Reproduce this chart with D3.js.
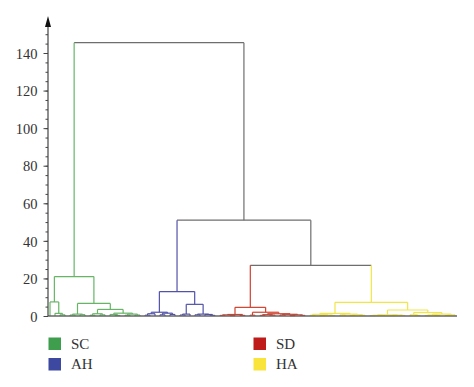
<!DOCTYPE html>
<html>
<head>
<meta charset="utf-8">
<script src="https://cdn.jsdelivr.net/npm/d3@7"></script>
<style>
  body { margin: 0; background: #fff; }
  svg { display: block; }
  .tick text { font-family: "Liberation Serif", "DejaVu Serif", serif; font-size: 14.5px; fill: #333; }
  .legend text { font-family: "Liberation Serif", "DejaVu Serif", serif; font-size: 15px; fill: #333; }
</style>
</head>
<body>
<div id="chart-container"></div>
<script>
// dendrogram data: node = [mergeHeight, left, right], leaf = 1
var scTree = [21,
    [7.5, 1, [1.4, 1, [0.6, 1, 1]]],
    [6.7,
        [1.0, [0.5, 1, 1], [0.7, 1, 1]],
        [3.5,
            [1.2, [0.4, 1, 1], [0.6, 1, 1]],
            [1.5, [0.8, 1, [0.3, 1, 1]], [1.0, [0.4, 1, 1], [0.5, 1, 1]]]]]];

var ahTree = [13,
    [2.0, [1.2, [0.4, 1, 1], 1], [1.5, [0.6, 1, 1], [0.8, 1, 1]]],
    [6.2,
        [1.0, [0.5, 1, 1], 1],
        [1.0, [0.6, 1, 1], [0.8, 1, [0.3, 1, 1]]]]];

var sdTree = [4.6,
    [0.8, [0.6, [0.3, 1, 1], [0.2, 1, 1]], [0.3, 1, 1]],
    [2.0,
        [0.4, 1, 1],
        [1.2, [0.7, [0.3, 1, 1], [0.4, 1, 1]], [0.9, [0.5, 1, 1], [0.6, [0.2, 1, 1], [0.3, 1, 1]]]]]];

var haTree = [7.3,
    [1.4,
        [0.9, [0.4, 1, 1], [0.5, [0.2, 1, 1], [0.3, 1, 1]]],
        [1.0, [0.6, 1, 1], [0.7, [0.3, 1, 1], [0.4, 1, 1]]]],
    [3.2,
        [0.6, [0.4, [0.2, 1, 1], [0.3, 1, 1]], [0.5, [0.2, 1, 1], [0.3, 1, 1]]],
        [1.8, [0.6, 1, [0.3, 1, 1]], [1.0, [0.5, [0.2, 1, 1], [0.3, 1, 1]], [0.6, [0.3, 1, 1], 1]]]]];

var upperHeights = [27, 51, 145.5];   // SD+HA, AH+(SD+HA), root
var groups = ["SC", "AH", "SD", "HA"];
var groupTrees = [scTree, ahTree, sdTree, haTree];
var lineColors = ["#66b566", "#5252aa", "#d2402c", "#f1e548"];
var legendColors = ["#3e9e4e", "#3d49a0", "#c01b1b", "#f9e43c"];
var majorTicks = [0, 20, 40, 60, 80, 100, 120, 140];
var minorTicks = d3.range(0, 151, 5);

var width = 474, height = 387;
var svg = d3.select("#chart-container").append("svg")
    .attr("width", width).attr("height", height);

var rootData = [upperHeights[2], scTree, [upperHeights[1], ahTree, [upperHeights[0], sdTree, haTree]]];
var root = d3.hierarchy(rootData, d => Array.isArray(d) ? d.slice(1) : null);

var leaves = root.leaves();
var xScale = d3.scaleLinear().domain([0, leaves.length - 1]).range([50, 455]);
var yScale = d3.scaleLinear().domain([0, 140]).range([316, 53]);

leaves.forEach((l, i) => { l.x = xScale(i); });
root.eachAfter(n => {
    n.h = Array.isArray(n.data) ? n.data[0] : 0;
    if (n.children) n.x = d3.mean(n.children, c => c.x);
});

// colour each cluster
root.each(n => { n.color = "#6e6e6e"; });
root.descendants().forEach(n => {
    var gi = groupTrees.indexOf(n.data);
    if (gi >= 0) n.each(c => { c.color = lineColors[gi]; });
});

var view = svg.append("g").attr("class", "dendro")
    .attr("fill", "none").attr("stroke-width", 1.2);

// horizontal bars
view.selectAll(".bar")
    .data(root.descendants().filter(n => n.children))
    .enter().append("line")
    .attr("x1", d => d.children[0].x)
    .attr("x2", d => d.children[1].x)
    .attr("y1", d => yScale(d.h))
    .attr("y2", d => yScale(d.h))
    .attr("stroke", d => d.color);

// vertical links
view.selectAll(".link")
    .data(root.descendants().filter(n => n.parent))
    .enter().append("line")
    .attr("x1", d => d.x)
    .attr("x2", d => d.x)
    .attr("y1", d => yScale(d.parent.h))
    .attr("y2", d => yScale(d.h))
    .attr("stroke", d => d.color);

// axes
var axisX = 48;
svg.append("line")
    .attr("x1", axisX).attr("x2", 457)
    .attr("y1", yScale(0)).attr("y2", yScale(0))
    .attr("stroke", "#666").attr("stroke-width", 1.3);

svg.append("line")
    .attr("x1", axisX).attr("x2", axisX)
    .attr("y1", yScale(0)).attr("y2", 24)
    .attr("stroke", "#444").attr("stroke-width", 1.2);

svg.append("path")
    .attr("d", "M" + (axisX - 3) + ",27L" + axisX + ",16L" + (axisX + 3) + ",27Z")
    .attr("fill", "#111");

var gMinor = svg.append("g")
    .attr("transform", "translate(" + axisX + ",0)")
    .call(d3.axisLeft(yScale).tickValues(minorTicks).tickSize(2.5).tickFormat(""));
gMinor.select(".domain").remove();
gMinor.selectAll(".tick line").attr("stroke", "#444");

var gMajor = svg.append("g")
    .attr("transform", "translate(" + axisX + ",0)")
    .call(d3.axisLeft(yScale).tickValues(majorTicks).tickSize(4.5).tickPadding(6));
gMajor.select(".domain").remove();
gMajor.selectAll(".tick line").attr("stroke", "#444");
gMajor.selectAll(".tick text").attr("dy", "0.36em");

// legend
var legendPos = [[48.5, 337.5], [48.5, 358], [253.5, 337.5], [253.5, 358]];
var legendOrder = [0, 1, 2, 3];
var legend = svg.append("g").attr("class", "legend")
    .selectAll("g").data(legendOrder).enter().append("g")
    .attr("transform", (d, i) => "translate(" + legendPos[i][0] + "," + legendPos[i][1] + ")");
legend.append("rect")
    .attr("width", 12.5).attr("height", 12.5)
    .attr("fill", d => legendColors[d]);
legend.append("text")
    .attr("x", 22.5).attr("y", 11)
    .text(d => groups[d]);
</script>
</body>
</html>
